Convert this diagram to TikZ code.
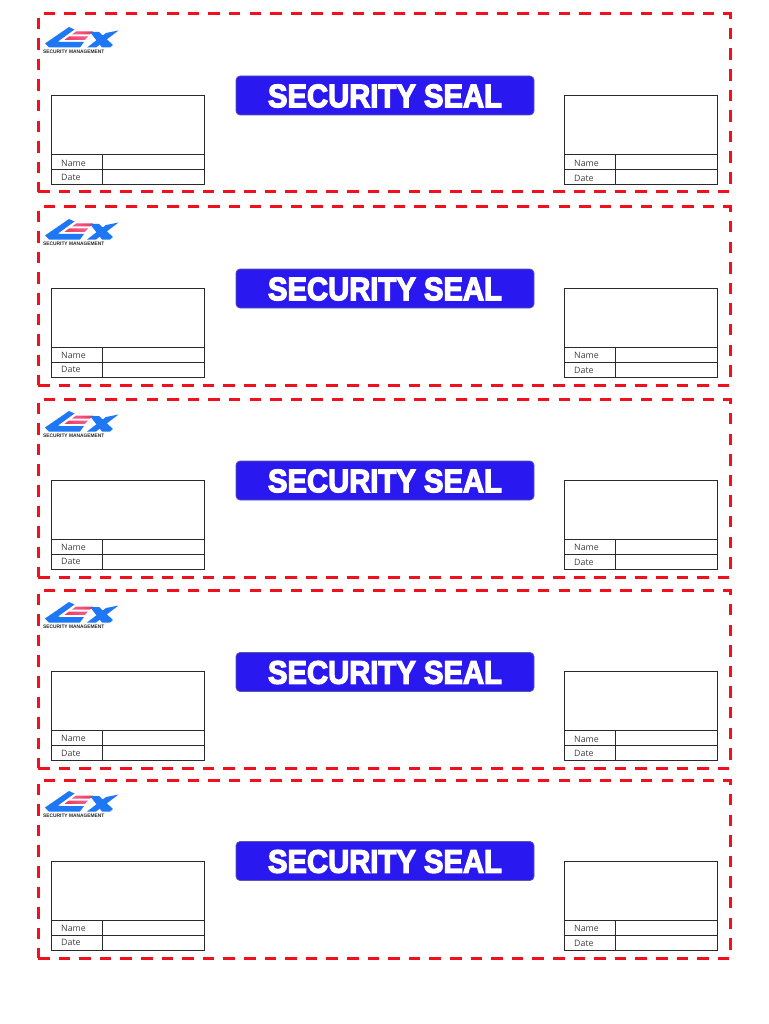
\documentclass[tikz,border=0pt]{standalone}
\usepackage{fontspec}
\setmainfont{Open Sans}
\newfontfamily\sealfont[FakeBold=4]{Liberation Sans Bold}
\newfontfamily\logofont{Liberation Sans Bold}
\definecolor{sealred}{HTML}{F2101E}
\definecolor{sealblue}{HTML}{2A18F0}
\definecolor{logoblue}{HTML}{1E78F5}
\definecolor{logopink}{HTML}{F0609A}
\definecolor{logored}{HTML}{F23A50}
\definecolor{inkline}{HTML}{2A2A2A}
\tikzset{
  x=1pt,y=-1pt,
  frameBox/.style={draw=sealred,line width=3pt,dash pattern=on 11.5pt off 9.1pt,minimum width=692pt,minimum height=178pt,anchor=north west,inner sep=0pt,outer sep=0pt},
  sealBox/.style={draw=gray!70!blue,line width=.7pt,fill=sealblue,rounded corners=4pt,minimum width=298pt,minimum height=39pt,anchor=north west,inner sep=0pt,outer sep=0pt},
  sealText/.style={text=white,font=\sealfont\fontsize{32.5}{34}\selectfont,xscale=.9,transform shape,inner sep=0pt},
  photoBox/.style={draw=inkline,line width=1pt,minimum width=153pt,minimum height=59pt,anchor=north west,inner sep=0pt,outer sep=0pt},
  labelCell/.style={draw=inkline,line width=1pt,minimum width=51.5pt,minimum height=15pt,anchor=north west,inner sep=0pt,outer sep=0pt},
  valueCell/.style={draw=inkline,line width=1pt,minimum width=101.5pt,minimum height=15pt,anchor=north west,inner sep=0pt,outer sep=0pt},
  cellText/.style={text=black!75,font=\fontsize{8.8}{10}\selectfont,anchor=west,inner sep=0pt},
  logoText/.style={text=black!85,font=\logofont\fontsize{5}{5}\selectfont,anchor=west,inner sep=0pt,xscale=.97,transform shape},
}
\newcommand{\sealtable}[4]{% id, x, top, label shift
  \node[photoBox] (photo#1) at (#2,#3) {};
  \node[labelCell] (nameL#1) at (#2,#3+59) {};
  \node[valueCell] (nameV#1) at (#2+51.5,#3+59) {};
  \node[labelCell] (dateL#1) at (#2,#3+74) {};
  \node[valueCell] (dateV#1) at (#2+51.5,#3+74) {};
  \node[cellText] (nameT#1) at (#2+10,#3+67+#4) {Name};
  \node[cellText] (dateT#1) at (#2+10,#3+81.5+#4) {Date};
}
\newcommand{\sealrow}[5]{% id, frame top, table top, seal top, logo top
  \node[frameBox] (frame#1) at (38,#2) {};
  \node[sealBox] (seal#1) at (236,#4) {};
  \node[sealText] (sealT#1) at (385,#4+20) {SECURITY SEAL};
  \sealtable{#1l}{51}{#3}{0}
  \sealtable{#1r}{564}{#3}{.8}
  \begin{scope}[shift={(0,#5-27)}]
    % L
    \fill[logoblue] (69,27) -- (74.5,29.5) -- (58,41.5) -- (61,42) -- (84,42) -- (80,47.5) -- (49,47.5) -- (45,43.5) -- cycle;
    % E bars
    \shade[left color=logopink,right color=logored] (76,31.5) -- (93,31.5) -- (90,34.5) -- (72,34.5) -- cycle;
    \shade[left color=logored,right color=logopink] (69,36.5) -- (88,36.5) -- (85,39.8) -- (64.5,39.8) -- cycle;
    % X
    \fill[logoblue] (90,32) -- (99,32) -- (113,45) -- (110,47.5) -- (102,47.5) -- cycle;
    \fill[logoblue] (118.5,30.5) -- (106,33) -- (87,47.5) -- (96,47.5) -- (110,37) -- cycle;
  \end{scope}
  \node[logoText] (logoT#1) at (43,#5+24.5) {SECURITY MANAGEMENT};
}
\begin{document}
\begin{tikzpicture}
\useasboundingbox[fill=white] (0,0) rectangle (768,1024);
\sealrow{a}{14}{96}{76}{27}
\sealrow{b}{207}{288}{269}{219}
\sealrow{c}{399}{480}{461}{411}
\sealrow{d}{590}{671.5}{652.5}{602}
\sealrow{e}{780}{861}{841.5}{791}
\end{tikzpicture}
\end{document}
